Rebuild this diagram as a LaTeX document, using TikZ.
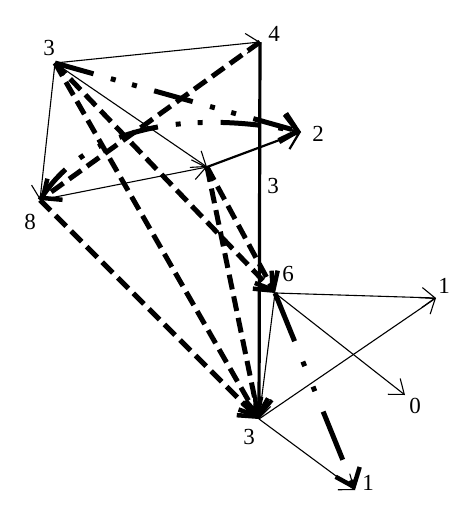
\documentclass[tikz,border=0pt]{standalone}
\usepackage{fontspec}
\setmainfont{Liberation Serif}
\usetikzlibrary{arrows.meta}
\begin{document}
\begin{tikzpicture}[x=1pt,y=-1pt,
  lab/.style={font=\fontsize{23}{23}\selectfont, inner sep=0pt},
  thinarr/.style={line width=1.1pt, -{Straight Barb[length=13pt,width=20pt,line width=1.1pt]}},
  medarr/.style={line width=2.2pt, -{Straight Barb[length=15pt,width=24pt,line width=2.2pt]}},
  thickarr/.style={line width=3.2pt, -{Straight Barb[length=16pt,width=26pt,line width=3.6pt]}},
  dasharr/.style={line width=5pt, dash pattern=on 15pt off 7pt, -{Straight Barb[length=15pt,width=26pt,line width=4.5pt]}},
  dotarr/.style={line width=5pt, dash pattern=on 40pt off 18pt on 5pt off 17pt on 5pt off 18pt, -{Straight Barb[length=16pt,width=28pt,line width=4.5pt]}},
  ddarr/.style={line width=5pt, dash pattern=on 52pt off 22pt on 5pt off 22pt on 5pt off 22pt, -{Straight Barb[length=16pt,width=26pt,line width=4.5pt]}},
]
\useasboundingbox (0,0) rectangle (474,523);
% points
\coordinate (A) at (55,63);
\coordinate (B) at (260,42);
\coordinate (C) at (301,132);
\coordinate (M) at (207,167);
\coordinate (D) at (40,200);
\coordinate (E) at (275,293);
\coordinate (F) at (259,419);
\coordinate (G) at (436,298);
\coordinate (H) at (405,395);
\coordinate (I) at (355,490);
% labels
\node[lab] (lA) at (49,48) {3};
\node[lab] (lB) at (274,34) {4};
\node[lab] (lC) at (318,134) {2};
\node[lab] (lD) at (30,222) {8};
\node[lab] (lE) at (288,274) {6};
\node[lab] (lG) at (444,286) {1};
\node[lab] (lH) at (415,406) {0};
\node[lab] (lF) at (249,437) {3};
\node[lab] (lI) at (368,483) {1};
\node[lab] (lBF) at (273,186) {3};
% thin edges
\draw[thinarr] (A) -- (B);
\draw[thinarr] (A) -- (D);
\draw[thinarr] (A) -- (M);
\draw[thinarr] (D) -- (M);
\draw[medarr] (M) -- (C);
\draw[thinarr] (E) -- (G);
\draw[thinarr] (E) -- (H);
\draw[thinarr] (E) -- (F);
\draw[thinarr] (F) -- (G);
\draw[thinarr] (F) -- (I);
% thick solid
\draw[thickarr] (B) -- (F);
% dashed
\draw[dasharr] (B) -- (D);
\draw[dasharr] (A) -- (E);
\draw[dasharr] (A) -- (F);
\draw[dasharr] (D) -- (F);
\draw[dasharr] (M) -- (F);
\draw[dasharr] (M) -- (E);
% dash-dot
\draw[dotarr] (A) -- (C);
\draw[dotarr] (D) .. controls (90,120) and (200,112) .. (C);
\draw[ddarr] (E) -- (I);
\end{tikzpicture}
\end{document}
